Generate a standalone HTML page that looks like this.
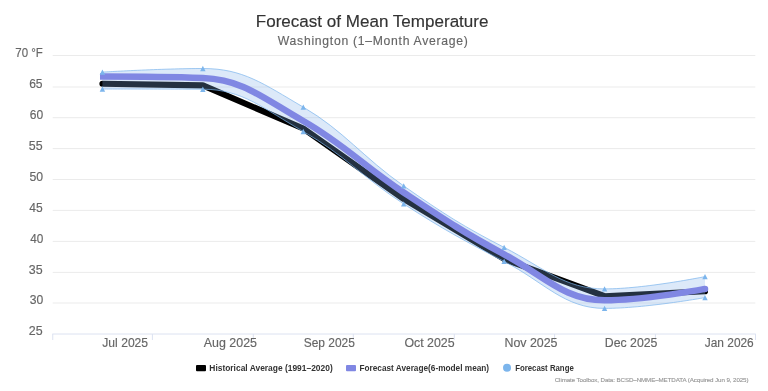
<!DOCTYPE html>
<html><head><meta charset="utf-8"><style>
html,body{margin:0;padding:0;background:#fff;width:768px;height:391px;overflow:hidden}
svg{display:block;will-change:transform}
text{font-family:"Liberation Sans",sans-serif}
</style></head><body>
<svg width="768" height="391" viewBox="0 0 768 391">
<rect width="768" height="391" fill="#fff"/>
<path d="M 52.7 55.5 L 755.3 55.5" stroke="#ebebeb" stroke-width="1"/>
<path d="M 52.7 87.0 L 755.3 87.0" stroke="#ebebeb" stroke-width="1"/>
<path d="M 52.7 117.7 L 755.3 117.7" stroke="#ebebeb" stroke-width="1"/>
<path d="M 52.7 148.6 L 755.3 148.6" stroke="#ebebeb" stroke-width="1"/>
<path d="M 52.7 179.5 L 755.3 179.5" stroke="#ebebeb" stroke-width="1"/>
<path d="M 52.7 210.4 L 755.3 210.4" stroke="#ebebeb" stroke-width="1"/>
<path d="M 52.7 241.4 L 755.3 241.4" stroke="#ebebeb" stroke-width="1"/>
<path d="M 52.7 272.4 L 755.3 272.4" stroke="#ebebeb" stroke-width="1"/>
<path d="M 52.7 303.0 L 755.3 303.0" stroke="#ebebeb" stroke-width="1"/>
<path d="M 52.3 334.0 L 755.8 334.0" stroke="#dce2f1" stroke-width="1"/>
<path d="M 52.75 334 L 52.75 340" stroke="#dce2f1" stroke-width="1"/>
<path d="M 152.40 334 L 152.40 340" stroke="#dce2f1" stroke-width="1"/>
<path d="M 253.30 334 L 253.30 340" stroke="#dce2f1" stroke-width="1"/>
<path d="M 353.30 334 L 353.30 340" stroke="#dce2f1" stroke-width="1"/>
<path d="M 454.30 334 L 454.30 340" stroke="#dce2f1" stroke-width="1"/>
<path d="M 554.60 334 L 554.60 340" stroke="#dce2f1" stroke-width="1"/>
<path d="M 655.40 334 L 655.40 340" stroke="#dce2f1" stroke-width="1"/>
<path d="M 755.50 334 L 755.50 340" stroke="#dce2f1" stroke-width="1"/>
<path d="M 102.42 83.80 L 202.85 85.40 L 303.28 128.50 L 403.70 199.00 L 504.14 259.00 L 604.57 296.20 L 705.00 291.30" fill="none" stroke="#000000" stroke-width="6.1" stroke-linecap="round" stroke-linejoin="round"/>
<path d="M 102.42 72.10 C 102.42 72.10 162.67 68.50 202.85 68.50 C 243.02 68.50 263.10 83.62 303.28 107.10 C 343.45 130.58 363.53 157.84 403.70 185.90 C 443.88 213.96 463.96 226.80 504.14 247.40 C 544.31 268.00 564.39 288.90 604.57 288.90 C 644.74 288.90 705.00 276.60 705.00 276.60 L 705.00 297.60 C 705.00 297.60 644.74 308.40 604.57 308.40 C 564.39 308.40 544.31 282.30 504.14 261.40 C 463.96 240.50 443.88 229.88 403.70 203.90 C 363.53 177.92 343.45 154.44 303.28 131.50 C 263.10 108.56 243.02 89.40 202.85 89.20 C 162.67 89.00 102.42 89.00 102.42 89.00 Z" fill="#80b0e8" fill-opacity="0.28" stroke="none" />
<path d="M 102.42 72.10 C 102.42 72.10 162.67 68.50 202.85 68.50 C 243.02 68.50 263.10 83.62 303.28 107.10 C 343.45 130.58 363.53 157.84 403.70 185.90 C 443.88 213.96 463.96 226.80 504.14 247.40 C 544.31 268.00 564.39 288.90 604.57 288.90 C 644.74 288.90 705.00 276.60 705.00 276.60" fill="none" stroke="#7cb5ec" stroke-width="1" stroke-opacity="0.7"/>
<path d="M 102.42 89.00 C 102.42 89.00 162.67 89.00 202.85 89.20 C 243.02 89.40 263.10 108.56 303.28 131.50 C 343.45 154.44 363.53 177.92 403.70 203.90 C 443.88 229.88 463.96 240.50 504.14 261.40 C 544.31 282.30 564.39 308.40 604.57 308.40 C 644.74 308.40 705.00 297.60 705.00 297.60" fill="none" stroke="#7cb5ec" stroke-width="1" stroke-opacity="0.7"/>
<path d="M 100.0 76.60 L 102.42 76.60 C 102.42 76.60 162.67 76.60 202.85 78.10 C 243.02 79.60 263.10 98.12 303.28 121.00 C 343.45 143.88 363.53 165.84 403.70 192.50 C 443.88 219.16 463.96 232.74 504.14 254.30 C 544.31 275.86 564.39 300.30 604.57 300.30 C 644.74 300.30 705.00 288.90 705.00 288.90" fill="none" stroke="#8087e3" stroke-width="6.5" stroke-linecap="butt" stroke-linejoin="round"/>
<circle cx="705.00" cy="288.90" r="3.25" fill="#8087e3"/>
<path d="M 102.42 69.40 L 105.12 74.80 L 99.72 74.80 Z" fill="#7cb5ec"/>
<path d="M 202.85 65.80 L 205.55 71.20 L 200.15 71.20 Z" fill="#7cb5ec"/>
<path d="M 303.28 104.40 L 305.98 109.80 L 300.58 109.80 Z" fill="#7cb5ec"/>
<path d="M 403.70 183.20 L 406.40 188.60 L 401.00 188.60 Z" fill="#7cb5ec"/>
<path d="M 504.14 244.70 L 506.84 250.10 L 501.44 250.10 Z" fill="#7cb5ec"/>
<path d="M 604.57 286.20 L 607.27 291.60 L 601.87 291.60 Z" fill="#7cb5ec"/>
<path d="M 705.00 273.90 L 707.70 279.30 L 702.30 279.30 Z" fill="#7cb5ec"/>
<path d="M 102.42 86.30 L 105.12 91.70 L 99.72 91.70 Z" fill="#7cb5ec"/>
<path d="M 202.85 86.50 L 205.55 91.90 L 200.15 91.90 Z" fill="#7cb5ec"/>
<path d="M 303.28 128.80 L 305.98 134.20 L 300.58 134.20 Z" fill="#7cb5ec"/>
<path d="M 403.70 201.20 L 406.40 206.60 L 401.00 206.60 Z" fill="#7cb5ec"/>
<path d="M 504.14 258.70 L 506.84 264.10 L 501.44 264.10 Z" fill="#7cb5ec"/>
<path d="M 604.57 305.70 L 607.27 311.10 L 601.87 311.10 Z" fill="#7cb5ec"/>
<path d="M 705.00 294.90 L 707.70 300.30 L 702.30 300.30 Z" fill="#7cb5ec"/>
<text x="255.78" y="27.10" textLength="232.72" lengthAdjust="spacingAndGlyphs" style="font-size:16.9px;font-weight:normal;fill:#333333;stroke:#333333;stroke-width:0.15px">Forecast of Mean Temperature</text>
<text x="277.82" y="44.50" textLength="190.02" lengthAdjust="spacing" style="font-size:12.2px;font-weight:normal;fill:#666666;stroke:#666666;stroke-width:0.15px">Washington (1–Month Average)</text>
<text x="102.29" y="346.80" textLength="45.82" lengthAdjust="spacingAndGlyphs" style="font-size:12.3px;font-weight:normal;fill:#666666;stroke:#666666;stroke-width:0.15px">Jul 2025</text>
<text x="203.80" y="346.80" textLength="53.20" lengthAdjust="spacingAndGlyphs" style="font-size:12.3px;font-weight:normal;fill:#666666;stroke:#666666;stroke-width:0.15px">Aug 2025</text>
<text x="303.68" y="346.80" textLength="51.16" lengthAdjust="spacingAndGlyphs" style="font-size:12.3px;font-weight:normal;fill:#666666;stroke:#666666;stroke-width:0.15px">Sep 2025</text>
<text x="404.44" y="346.80" textLength="50.18" lengthAdjust="spacingAndGlyphs" style="font-size:12.3px;font-weight:normal;fill:#666666;stroke:#666666;stroke-width:0.15px">Oct 2025</text>
<text x="504.43" y="346.80" textLength="53.08" lengthAdjust="spacingAndGlyphs" style="font-size:12.3px;font-weight:normal;fill:#666666;stroke:#666666;stroke-width:0.15px">Nov 2025</text>
<text x="604.82" y="346.80" textLength="52.60" lengthAdjust="spacingAndGlyphs" style="font-size:12.3px;font-weight:normal;fill:#666666;stroke:#666666;stroke-width:0.15px">Dec 2025</text>
<text x="704.75" y="346.80" textLength="49.00" lengthAdjust="spacingAndGlyphs" style="font-size:12.3px;font-weight:normal;fill:#666666;stroke:#666666;stroke-width:0.15px">Jan 2026</text>
<text x="209.30" y="371.00" textLength="123.41" lengthAdjust="spacingAndGlyphs" style="font-size:8.7px;font-weight:bold;fill:#333333;stroke:#333333;stroke-width:0px">Historical Average (1991–2020)</text>
<text x="359.42" y="371.00" textLength="129.72" lengthAdjust="spacingAndGlyphs" style="font-size:8.7px;font-weight:bold;fill:#333333;stroke:#333333;stroke-width:0px">Forecast Average(6-model mean)</text>
<text x="515.13" y="371.00" textLength="58.65" lengthAdjust="spacingAndGlyphs" style="font-size:8.7px;font-weight:bold;fill:#333333;stroke:#333333;stroke-width:0px">Forecast Range</text>
<text x="554.75" y="382.20" textLength="193.77" lengthAdjust="spacing" style="font-size:6.2px;font-weight:normal;fill:#999999;stroke:#999999;stroke-width:0.15px">Climate Toolbox, Data: BCSD–NMME–METDATA (Acquired Jun 9, 2025)</text>
<text x="15.36" y="56.80" textLength="27.51" lengthAdjust="spacingAndGlyphs" style="font-size:12.3px;font-weight:normal;fill:#666666;stroke:#666666;stroke-width:0.15px">70 °F</text>
<text x="29.16" y="88.30" textLength="13.42" lengthAdjust="spacingAndGlyphs" style="font-size:12.3px;font-weight:normal;fill:#666666;stroke:#666666;stroke-width:0.15px">65</text>
<text x="29.86" y="119.00" textLength="13.40" lengthAdjust="spacingAndGlyphs" style="font-size:12.3px;font-weight:normal;fill:#666666;stroke:#666666;stroke-width:0.15px">60</text>
<text x="28.87" y="149.90" textLength="13.79" lengthAdjust="spacingAndGlyphs" style="font-size:12.3px;font-weight:normal;fill:#666666;stroke:#666666;stroke-width:0.15px">55</text>
<text x="29.53" y="180.80" textLength="13.61" lengthAdjust="spacingAndGlyphs" style="font-size:12.3px;font-weight:normal;fill:#666666;stroke:#666666;stroke-width:0.15px">50</text>
<text x="29.22" y="211.70" textLength="13.38" lengthAdjust="spacingAndGlyphs" style="font-size:12.3px;font-weight:normal;fill:#666666;stroke:#666666;stroke-width:0.15px">45</text>
<text x="30.13" y="242.70" textLength="13.08" lengthAdjust="spacingAndGlyphs" style="font-size:12.3px;font-weight:normal;fill:#666666;stroke:#666666;stroke-width:0.15px">40</text>
<text x="28.86" y="273.70" textLength="13.83" lengthAdjust="spacingAndGlyphs" style="font-size:12.3px;font-weight:normal;fill:#666666;stroke:#666666;stroke-width:0.15px">35</text>
<text x="29.72" y="304.30" textLength="13.50" lengthAdjust="spacingAndGlyphs" style="font-size:12.3px;font-weight:normal;fill:#666666;stroke:#666666;stroke-width:0.15px">30</text>
<text x="28.88" y="335.30" textLength="13.82" lengthAdjust="spacingAndGlyphs" style="font-size:12.3px;font-weight:normal;fill:#666666;stroke:#666666;stroke-width:0.15px">25</text>
<rect x="196" y="365" width="10" height="6.2" rx="1" fill="#000"/>
<rect x="346" y="365" width="10" height="6.2" rx="1" fill="#8087e3"/>
<circle cx="507" cy="367.8" r="4" fill="#7cb5ec"/>
</svg>
</body></html>
